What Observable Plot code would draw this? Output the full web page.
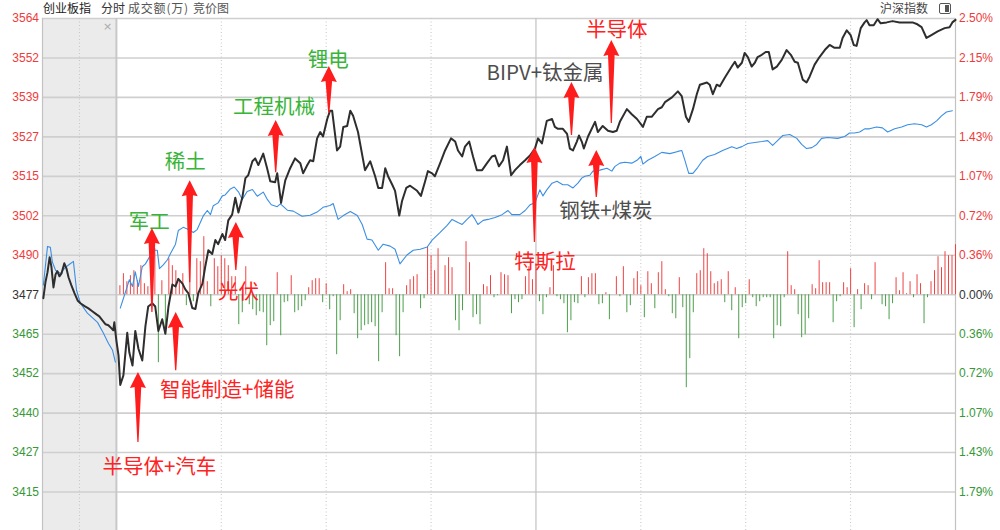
<!DOCTYPE html>
<html>
<head>
<meta charset="utf-8">
<script src="https://cdn.jsdelivr.net/npm/d3@7"></script>
<script src="https://cdn.jsdelivr.net/npm/@observablehq/plot@0.6"></script>
<style>
  html, body { margin: 0; padding: 0; background: #ffffff; }
  #wrap { position: relative; width: 1000px; height: 530px; overflow: hidden; }
  #title { position: relative; height: 17px; font-family: "Noto Sans CJK SC", "Liberation Sans", sans-serif; font-size: 12px; line-height: 16px; color: #333; }
  #title span { position: absolute; top: 0; white-space: nowrap; }
  .icon { position: absolute; left: 939px; top: 3px; width: 10px; height: 9px; border: 1px solid #555; border-radius: 2px; }
  .icon i { position: absolute; right: 1px; top: 1px; width: 4px; height: 7px; background: #555; }
  .close { position: absolute; left: 103px; top: 20px; font-family: "DejaVu Sans", sans-serif; font-size: 11px; color: #aaa; }
  #chart svg { display: block; }
</style>
</head>
<body>
<div id="wrap">
  <div id="title">
    <span style="left:43px;color:#222">创业板指</span>
    <span style="left:101px;color:#333">分时</span>
    <span style="left:128px;color:#555;letter-spacing:0.8px">成交额(万)</span>
    <span style="left:193px;color:#555">竞价图</span>
    <span style="left:880px;color:#444">沪深指数</span>
    <div class="icon"><i></i></div>
  </div>
  <div id="chart"></div>
  <div class="close">×</div>
</div>
<script>
// ---------- data ----------
const base = 3477.0;                 // previous close
const auctionStart = -21.14;         // call-auction window (minutes before open)
const sessionEnd = 240;

const leftTickLabels  = ["3564","3552","3539","3527","3515","3502","3490","3477","3465","3452","3440","3427","3415"];
const rightTickLabels = ["2.50%","2.15%","1.79%","1.43%","1.07%","0.72%","0.36%","0.00%","0.36%","0.72%","1.07%","1.43%","1.79%"];
const tickSteps = [7,6,5,4,3,2,1,0,-1,-2,-3,-4,-5];
const tickStepPct = 0.025 / 7;

// index (black) — minutes from open, price
const indexTimes = [
  -20.9,-20.3,-19.7,-19.1,-18.6,-18.0,-17.4,-16.9,-16.3,-15.7,-14.9,-14.3,-13.7,-12.9,-12.0,-11.1,-10.3,-9.1,-8.0,-6.9,-5.7,-4.9,-4.0,-3.1,-2.3,-1.4,-0.9,-0.6,
  0,0.6,1.1,2.0,3.1,3.7,4.6,5.4,6.3,7.4,8.3,9.1,10.3,11.1,12.0,13.1,14.0,14.9,16.0,16.9,17.7,18.9,19.7,20.6,21.7,22.6,23.4,24.6,25.4,26.3,27.4,28.3,29.1,30.3,31.1,32.0,33.1,34.0,34.9,36.0,36.9,37.7,38.9,39.7,40.6,42.0,43.1,44.0,45.4,46.0,47.1,48.3,49.7,51.1,52.6,53.4,54.6,55.4,56.3,57.4,58.3,59.1,60.3,61.1,61.7,63.1,64.0,64.9,66.0,66.9,67.7,69.1,71.1,72.6,74.0,74.9,76.0,76.9,77.7,78.9,79.7,80.9,81.7,82.9,84.0,84.9,86.0,87.1,88.3,89.1,90.3,91.1,92.6,94.0,95.7,96.9,97.7,98.9,99.7,100.9,102.0,103.1,104.6,106.0,107.4,108.3,109.4,110.6,111.7,112.9,114.0,115.4,116.9,118.3,119.7,120.6,121.7,122.6,123.1,124.6,125.4,126.3,127.7,128.9,129.7,130.6,131.7,132.3,133.1,133.7,134.9,136.9,137.7,139.1,140.6,142.0,143.1,144.0,146.0,147.4,148.9,150.6,151.7,153.1,154.9,156.0,156.9,158.9,160.6,161.7,162.9,163.7,164.9,166.0,166.9,168.9,169.7,170.6,171.7,172.6,174.0,176.0,176.9,177.7,178.9,179.7,180.6,181.7,182.6,183.4,184.6,185.7,186.6,187.7,188.9,190.3,191.7,192.9,194.0,194.9,196.3,197.4,198.3,199.7,201.1,202.6,204.0,205.4,206.9,207.7,208.9,210.0,210.9,211.7,212.9,214.0,214.6,215.4,216.6,217.7,218.6,220.3,222.0,224.0,226.0,227.7,229.1,230.3,231.7,233.1,234.9,236.9,238.3,239.1,240
];
const indexPrices = [
  3475.9,3480.9,3484.1,3488.8,3485.9,3479.3,3483.4,3484.4,3482.8,3483.7,3486.9,3485.3,3482.5,3480.0,3477.5,3475.2,3474.3,3473.4,3472.7,3471.8,3470.8,3470.2,3468.9,3467.7,3467.4,3466.4,3465.8,3468.3,
  3462.5,3457.9,3448.6,3451.6,3465.0,3458.8,3454.7,3465.6,3460.0,3456.3,3467.1,3473.3,3474.3,3473.3,3465.6,3469.3,3464.7,3473.3,3480.2,3479.6,3482.0,3480.5,3478.7,3477.4,3472.8,3472.5,3477.4,3480.5,3485.8,3491.0,3489.8,3494.2,3492.9,3496.1,3494.2,3500.4,3502.2,3507.5,3502.9,3507.5,3513.7,3514.6,3519.0,3519.9,3517.8,3521.4,3516.8,3512.7,3512.4,3515.2,3505.9,3513.0,3516.8,3519.9,3518.4,3515.2,3517.8,3519.3,3519.0,3526.2,3528.2,3526.8,3532.3,3534.9,3534.9,3522.4,3523.6,3529.8,3530.1,3534.9,3533.3,3528.2,3516.2,3519.0,3514.3,3510.6,3510.6,3516.8,3514.3,3511.6,3509.7,3501.9,3506.5,3510.6,3511.3,3510.6,3509.7,3508.1,3512.7,3515.9,3515.2,3514.3,3518.4,3522.4,3526.2,3525.2,3522.4,3520.5,3523.6,3525.2,3520.5,3516.2,3516.2,3518.4,3520.5,3520.8,3517.4,3519.3,3523.6,3514.6,3516.2,3517.8,3519.3,3520.8,3523.0,3526.2,3524.6,3529.2,3531.7,3532.3,3529.8,3529.2,3529.2,3527.6,3523.0,3522.4,3525.2,3527.1,3525.2,3523.0,3526.8,3531.4,3528.2,3530.1,3528.6,3528.2,3528.6,3531.4,3535.4,3533.8,3532.3,3529.8,3533.0,3533.0,3535.4,3536.0,3537.6,3539.1,3541.0,3539.5,3533.0,3531.4,3535.4,3540.1,3543.1,3543.8,3543.1,3540.1,3543.1,3542.6,3545.3,3548.8,3550.3,3548.5,3550.0,3553.1,3551.8,3548.8,3550.0,3551.8,3552.5,3553.4,3553.4,3547.9,3548.8,3550.9,3554.0,3552.5,3550.3,3550.0,3544.7,3543.8,3545.7,3549.4,3551.8,3554.0,3555.6,3554.7,3554.7,3557.8,3560.2,3558.7,3555.6,3555.3,3560.9,3562.7,3563.4,3561.8,3561.8,3563.7,3562.4,3562.7,3563.1,3562.7,3562.7,3562.7,3562.1,3561.2,3557.8,3558.7,3559.9,3560.9,3561.2,3562.7,3563.5
];

// blue line — auction segment and session segment
const blueAuctionTimes  = [-20.9,-19.7,-18.9,-18.3,-17.4,-16.0,-14.6,-13.4,-12.3,-11.4,-10.3,-8.3,-5.4,-3.7,-2.3,-1.1,-0.3];
const blueAuctionPrices = [3480.0,3492.2,3491.9,3487.2,3484.7,3483.7,3485.6,3486.6,3487.5,3478.4,3474.3,3471.2,3468.3,3464.9,3461.7,3459.5,3455.8];
const blueSessionTimes = [
  1.1,2.0,3.1,3.7,4.6,5.4,6.3,7.4,8.3,9.1,10.6,11.7,12.3,13.4,14.6,15.4,16.9,17.7,19.1,20.6,22.0,23.1,24.0,24.9,26.0,26.9,27.7,29.1,30.3,31.1,32.6,33.7,34.9,36.0,37.4,38.9,40.3,42.0,43.1,44.3,46.0,46.9,48.9,50.6,53.1,55.4,57.4,59.1,61.1,62.0,63.4,64.9,66.9,68.9,70.3,71.7,73.1,74.9,76.3,78.3,79.7,81.1,83.1,84.9,86.9,88.9,90.3,92.6,94.6,96.0,97.7,98.9,100.3,101.7,102.6,103.4,104.9,106.3,108.3,110.3,112.0,113.1,115.4,116.9,118.3,119.7,121.1,122.0,123.1,124.6,126.0,127.7,129.1,130.6,132.0,133.1,134.0,135.4,136.3,138.3,140.3,141.7,142.6,144.0,145.4,147.4,148.9,150.0,150.6,152.0,154.0,156.0,158.3,160.6,161.7,162.6,163.7,164.9,166.3,167.7,169.1,171.1,173.4,176.0,177.4,178.9,180.6,182.6,184.6,186.3,187.7,189.1,190.6,192.6,194.6,196.0,197.4,198.9,200.3,201.7,203.4,206.3,208.3,209.7,211.1,212.6,214.0,215.4,217.4,219.1,220.6,222.6,224.6,226.3,228.3,230.3,231.7,233.1,234.6,236.0,237.4,239.1
];
const blueSessionPrices = [
  3472.8,3475.8,3479.6,3481.7,3479.6,3484.2,3479.6,3485.8,3486.7,3488.2,3491.0,3491.0,3485.2,3486.4,3488.0,3489.8,3492.9,3497.2,3498.2,3497.5,3496.6,3497.5,3499.7,3501.9,3503.5,3502.2,3505.0,3505.9,3508.1,3508.4,3510.3,3510.9,3509.4,3507.0,3509.5,3510.1,3508.0,3509.3,3507.1,3505.3,3504.7,3505.6,3503.6,3503.3,3501.7,3502.0,3503.0,3504.5,3505.1,3505.7,3500.7,3501.9,3503.2,3501.9,3499.1,3494.5,3494.2,3491.0,3492.9,3492.3,3491.3,3486.7,3489.5,3491.0,3491.3,3492.0,3494.2,3496.6,3498.8,3500.7,3499.7,3499.1,3500.7,3502.2,3500.7,3499.1,3500.4,3500.7,3501.3,3502.2,3503.5,3502.2,3502.2,3503.5,3505.3,3505.9,3510.0,3508.1,3510.0,3512.1,3512.7,3511.6,3511.6,3510.6,3512.1,3513.7,3514.3,3514.6,3515.9,3516.2,3516.8,3515.9,3517.4,3518.4,3518.7,3518.4,3519.3,3520.5,3518.1,3519.3,3520.5,3521.8,3521.4,3522.1,3522.4,3519.3,3515.2,3515.2,3517.1,3519.3,3520.5,3521.1,3522.4,3523.6,3523.0,3523.6,3524.6,3524.9,3525.2,3525.5,3524.0,3525.5,3527.1,3527.4,3526.2,3524.3,3523.0,3523.3,3524.3,3526.2,3526.5,3526.2,3526.8,3527.9,3527.9,3528.2,3529.2,3529.2,3529.8,3529.5,3528.2,3529.2,3529.8,3530.5,3530.8,3530.5,3529.8,3530.5,3531.7,3533.3,3534.5,3534.9
];

// turnover per minute (index = minute from open); positive = red (up), negative = green (down)
const turnover = [
  0,9,21,13,19,24,14,29,11,8,12,46,-68,14,-39,36,29,24,14,21,-11,40,-7,36,33,58,13,-12,36,28,
  39,36,29,18,18,-30,-18,28,-10,-15,-21,-17,-18,-51,-31,-27,22,-41,-8,-7,19,-18,-16,-12,-6,7,14,16,16,-8,
  11,-15,-2,-60,-26,10,3,5,-19,-44,-36,-31,-30,-28,-32,-67,-18,32,6,6,-41,-62,-18,9,15,18,20,-14,-4,48,
  39,24,46,0,29,37,27,-26,-36,-16,53,32,-23,-20,-30,10,8,19,-3,-1,22,20,19,-19,-5,-8,-5,18,28,15,
  31,-7,-20,-3,7,29,-2,-5,-9,-38,-26,-8,-9,18,-3,17,21,21,-10,-9,2,-25,0,18,-2,28,-18,-11,16,23,
  9,-23,23,11,-14,22,33,5,-2,-19,-24,17,-13,-93,-64,-18,21,24,46,41,23,11,13,15,-8,23,-16,7,-44,-13,
  -9,15,-3,-12,-7,-3,-3,-3,-44,-31,-32,-3,43,9,5,-20,-43,-40,-24,10,6,34,12,12,12,-28,-7,-2,12,7,
  26,-33,5,-15,11,9,-5,32,0,-10,-12,-25,-9,17,4,22,1,13,-3,20,11,-29,-3,13,24,38,27,43,39,39,50
];

// annotations (sector labels) and their arrows
const noteLabels = ["半导体+汽车","智能制造+储能","军工","稀土","光伏","工程机械","锂电","特斯拉","BIPV+钛金属","钢铁+煤炭","半导体"];
const noteTimes  = [12.3, 31.7, 9.4, 19.7, 34.9, 45.1, 60.6, 122.6, 122.6, 140.0, 143.1];
const notePrices = [3422.6, 3446.8, 3499.7, 3518.6, 3477.7, 3535.9, 3550.7, 3487.1, 3546.6, 3503.2, 3560.1];
const noteGroup  = ["red","red","green","green","red","green","green","red","grey","grey","red"];

const arrowTimes     = [6.3, 17.1, 10.3, 21.1, 34.3, 45.7, 60.9, 119.7, 130.3, 137.4, 141.7];
const arrowTipPrices = [3452.5, 3471.4, 3497.8, 3512.9, 3499.7, 3531.8, 3548.8, 3523.3, 3543.8, 3522.4, 3557.0];
const arrowEndPrices = [3430.5, 3453.1, 3471.4, 3480.8, 3484.6, 3515.4, 3534.0, 3493.4, 3527.1, 3507.6, 3530.9];

// ---------- build ----------
const tickValues = tickSteps.map(k => base * (1 + k * tickStepPct));
const yTop = tickValues[0];
const yBottom = 3402.8;
const amountScale = 0.3147; // index points per turnover unit (bar height)

const indexData = indexTimes.map((t, i) => ({t, p: indexPrices[i]}));
const blueData = [
  ...blueAuctionTimes.map((t, i) => ({t, p: blueAuctionPrices[i], seg: "auction"})),
  ...blueSessionTimes.map((t, i) => ({t, p: blueSessionPrices[i], seg: "session"}))
];
const barData = turnover.map((v, t) => ({t, v})).filter(d => d.v !== 0);
const notes = noteLabels.map((label, i) => ({label, t: noteTimes[i], p: notePrices[i], group: noteGroup[i]}));
const arrows = arrowTimes.map((t, i) => ({t, tip: arrowTipPrices[i], end: arrowEndPrices[i]}));

const RED = "#ef4343", GREEN = "#4a9e4a";
const noteColor = {red: "#ff2222", green: "#38b438", grey: "#4d4d4d"};
const tickColor = v => Math.abs(v - base) < 0.01 ? "#333333" : (v > base ? "#ee3b3b" : "#379837");

const plot = Plot.plot({
  width: 1000,
  height: 513,
  marginTop: 1,
  marginBottom: 0,
  marginLeft: 42,
  marginRight: 45,
  x: {domain: [auctionStart, sessionEnd], axis: null},
  y: {domain: [yBottom, yTop], axis: null},
  color: {type: "identity"},
  style: {background: "transparent", overflow: "visible"},
  marks: [
    Plot.rect([{a: auctionStart, b: 0}], {x1: "a", x2: "b", fill: "#ebebeb"}),
    Plot.ruleY(tickValues, {stroke: "#cfcfcf", strokeWidth: 1.6}),
    Plot.ruleX([(auctionStart) / 2, 30, 60, 90, 150, 180, 210], {stroke: "#c4c4c4", strokeDasharray: "1,2.5", strokeWidth: 1}),
    Plot.ruleX([auctionStart, 120, sessionEnd], {stroke: "#c2c2c2", strokeWidth: 1.2}),
    Plot.ruleX([0], {stroke: "#c8c8c8", strokeWidth: 2}),
    Plot.ruleX(barData, {x: "t", y1: base, y2: d => base + d.v * amountScale, stroke: d => d.v > 0 ? RED : GREEN, strokeWidth: 1}),
    Plot.line(blueData, {x: "t", y: "p", z: "seg", stroke: "#3b8fe3", strokeWidth: 1.1}),
    Plot.line(indexData, {x: "t", y: "p", stroke: "#2e2e2e", strokeWidth: 2}),
    Plot.text(tickValues, {y: d => d, frameAnchor: "left", dx: -3.5, textAnchor: "end", text: (d, i) => leftTickLabels[i], fill: d => tickColor(d), fontSize: 12, fontFamily: "Liberation Sans, Arial, sans-serif"}),
    Plot.text(tickValues, {y: d => d, frameAnchor: "right", dx: 3.5, textAnchor: "start", text: (d, i) => rightTickLabels[i], fill: d => tickColor(d), fontSize: 12, fontFamily: "Liberation Sans, Arial, sans-serif"}),
    Plot.text(notes, {x: "t", y: "p", text: "label", fill: d => noteColor[d.group], fontSize: 20.5, fontFamily: "Noto Sans CJK SC, sans-serif", textAnchor: "middle"})
  ]
});

document.getElementById("chart").appendChild(plot);

// red annotation arrows, placed through the plot's own scales
const sx = plot.scale("x"), sy = plot.scale("y");
function arrowPath(x, yTip, yEnd) {
  const hw = 8, hh = 16, sw = 3.3;
  return `M${x},${yTip} L${x + hw},${yTip + hh} L${x + sw},${yTip + hh - 1} L${x + 0.6},${yEnd} L${x - 0.6},${yEnd} L${x - sw},${yTip + hh - 1} L${x - hw},${yTip + hh} Z`;
}
d3.select(plot).append("g")
  .selectAll("path")
  .data(arrows)
  .join("path")
  .attr("d", d => arrowPath(sx.apply(d.t), sy.apply(d.tip), sy.apply(d.end)))
  .attr("fill", "#ff1c1c");
</script>
</body>
</html>
